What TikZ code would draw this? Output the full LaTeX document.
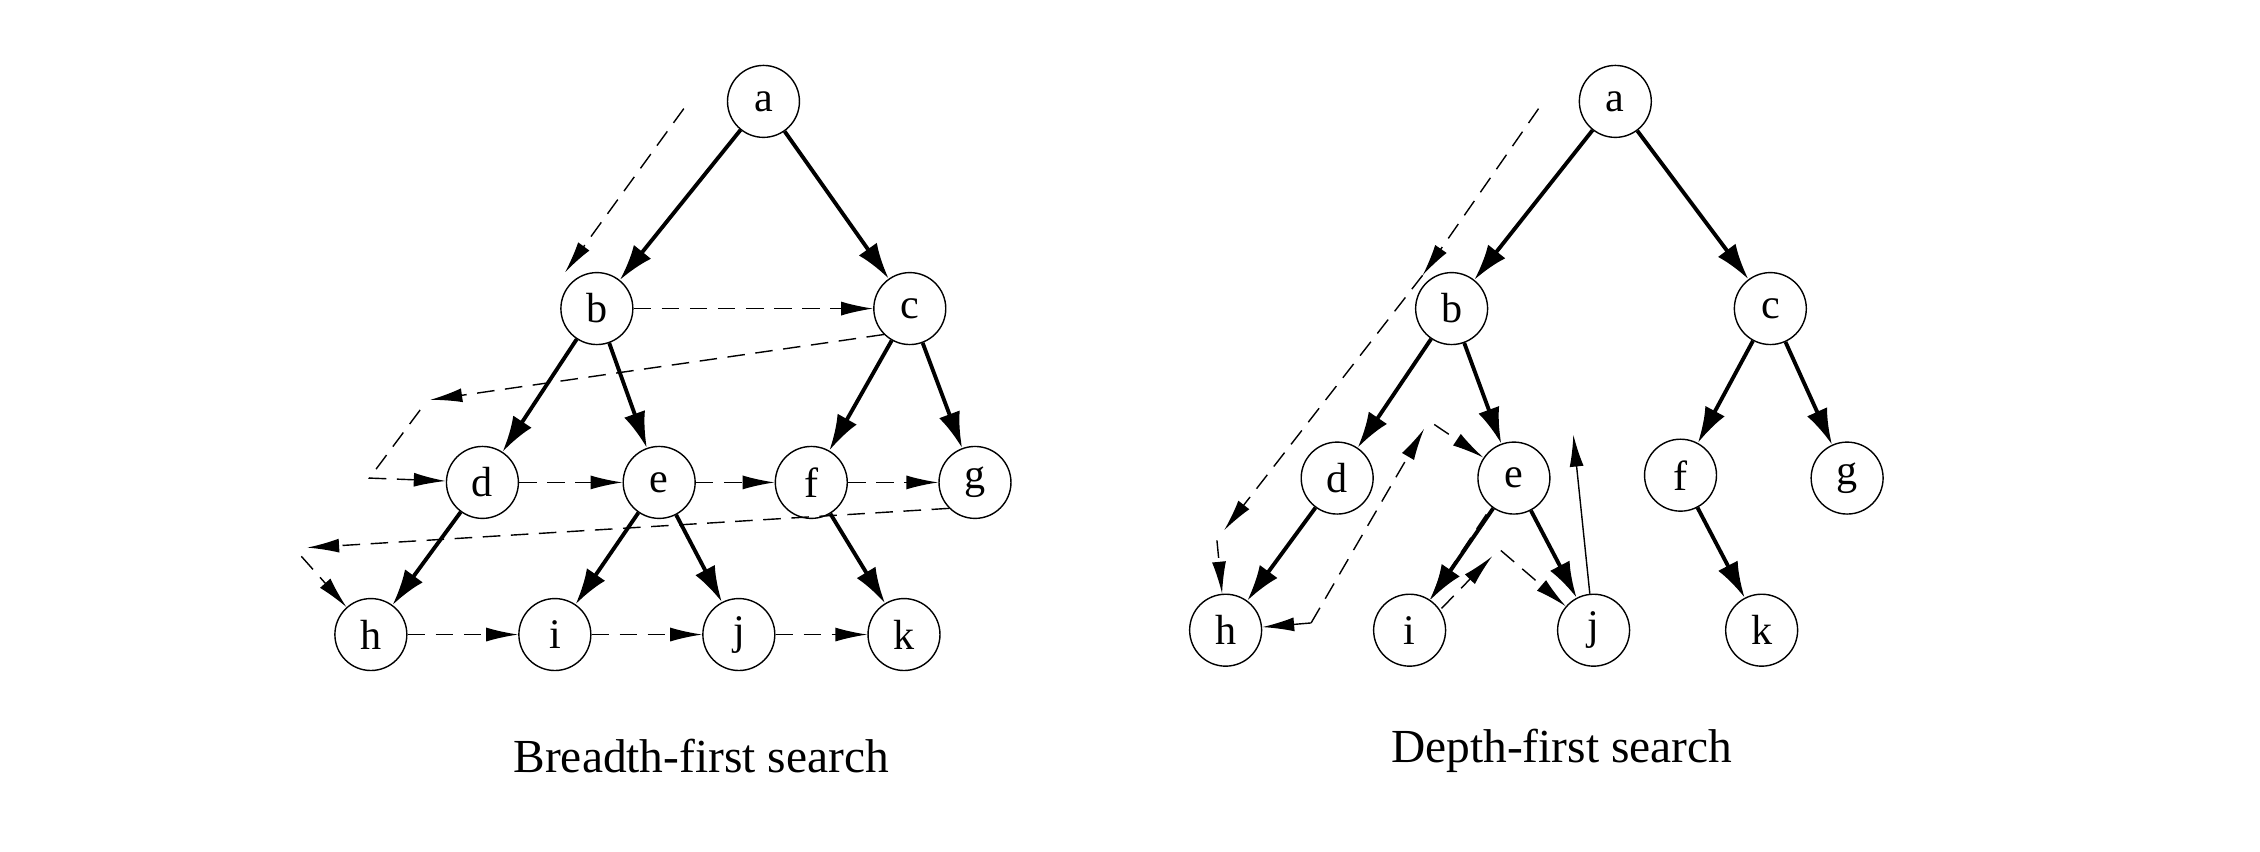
\documentclass[tikz,border=0pt]{standalone}
\usepackage{fontspec}
\setmainfont{Liberation Serif}
\usetikzlibrary{arrows.meta}
\tikzset{
  vert/.style={circle, draw, thin, minimum size=0.72cm, inner sep=0pt, font=\fontsize{12}{14}\selectfont},
  tree/.style={line width=1.1pt, -{Latex[length=3.6mm, width=2.2mm]}},
  walk/.style={thin, dash pattern=on 5pt off 3pt, -{Latex[length=3.2mm, width=1.4mm]}},
  back/.style={thin, -{Latex[length=3.2mm, width=1.4mm]}},
  title/.style={font=\fontsize{13.5}{16}\selectfont}
}
\begin{document}
\begin{tikzpicture}[x=0.01449cm, y=-0.01449cm]
\useasboundingbox (0,0) rectangle (1560,588);

% breadth-first tree
\node (la) [vert] at (527,70) {a};
\node (lb) [vert] at (412,213) {b};
\node (lc) [vert] at (628,213) {c};
\node (ld) [vert] at (333,333) {d};
\node (le) [vert] at (455,333) {e};
\node (lf) [vert] at (560,333) {f};
\node (lg) [vert] at (673,333) {g};
\node (lh) [vert] at (256,438) {h};
\node (li) [vert] at (383,438) {i};
\node (lj) [vert] at (510,438) {j};
\node (lk) [vert] at (624,438) {k};

\draw [tree] (la) -- (lb);
\draw [tree] (la) -- (lc);
\draw [tree] (lb) -- (ld);
\draw [tree] (lb) -- (le);
\draw [tree] (lc) -- (lf);
\draw [tree] (lc) -- (lg);
\draw [tree] (ld) -- (lh);
\draw [tree] (le) -- (li);
\draw [tree] (le) -- (lj);
\draw [tree] (lf) -- (lk);

\coordinate (l1) at (472,75);
\coordinate (l2) at (390,188);
\coordinate (l3) at (297,276);
\coordinate (l4) at (290,283);
\coordinate (l5) at (255,330);
\coordinate (l6) at (212,378);
\coordinate (l7) at (208,384);
\draw [walk] (l1) -- (l2);
\draw [walk] (lb) -- (lc);
\draw [walk] (lc.south west) -- (l3);
\draw [walk] (l4) -- (l5) -- (ld);
\draw [walk] (ld) -- (le);
\draw [walk] (le) -- (lf);
\draw [walk] (lf) -- (lg);
\draw [walk] (lg.south west) -- (l6);
\draw [walk] (l7) -- (lh);
\draw [walk] (lh) -- (li);
\draw [walk] (li) -- (lj);
\draw [walk] (lj) -- (lk);

\node (ltitle) [title] at (484,522) {Breadth-first search};

% depth-first tree
\node (ra) [vert] at (1115,70) {a};
\node (rb) [vert] at (1002,213) {b};
\node (rc) [vert] at (1222,213) {c};
\node (rd) [vert] at (923,330) {d};
\node (re) [vert] at (1045,330) {e};
\node (rf) [vert] at (1160,328) {f};
\node (rg) [vert] at (1275,330) {g};
\node (rh) [vert] at (846,435) {h};
\node (ri) [vert] at (973,435) {i};
\node (rj) [vert] at (1100,435) {j};
\node (rk) [vert] at (1216,435) {k};

\draw [tree] (ra) -- (rb);
\draw [tree] (ra) -- (rc);
\draw [tree] (rb) -- (rd);
\draw [tree] (rb) -- (re);
\draw [tree] (rc) -- (rf);
\draw [tree] (rc) -- (rg);
\draw [tree] (rd) -- (rh);
\draw [tree] (re) -- (ri);
\draw [tree] (re) -- (rj);
\draw [tree] (rf) -- (rk);

\coordinate (r1) at (1062,75);
\coordinate (r2) at (982,190);
\coordinate (r3) at (845,366);
\coordinate (r4) at (840,373);
\coordinate (r5) at (905,430);
\coordinate (r6) at (983,296);
\coordinate (r7) at (990,293);
\coordinate (r8) at (1026,355);
\coordinate (r9) at (995,420);
\coordinate (r10) at (1030,384);
\coordinate (r11) at (1036,380);
\coordinate (r12) at (1086,300);
\draw [walk] (r1) -- (r2);
\draw [walk] (r2) -- (r3);
\draw [walk] (r4) -- (rh);
\draw [walk] (r5) -- (r6);
\draw [back] (r5) -- (rh);
\draw [walk] (r7) -- (re);
\draw [walk] (r8) -- (ri);
\draw [walk] (r9) -- (r10);
\draw [walk] (r11) -- (rj);
\draw [back] (rj) -- (r12);

\node (rtitle) [title] at (1078,518) {Depth-first search};
\end{tikzpicture}
\end{document}
